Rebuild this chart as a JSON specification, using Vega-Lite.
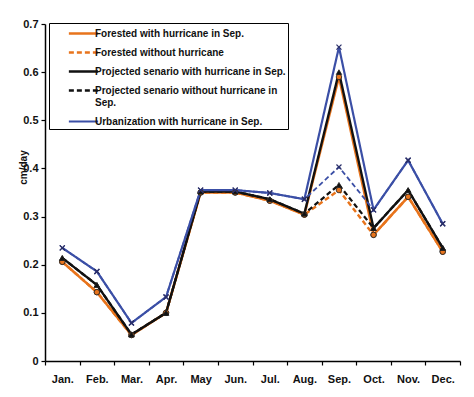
{
  "$schema": "https://vega.github.io/schema/vega-lite/v6.json",
  "width": 415,
  "height": 337,
  "autosize": "none",
  "padding": {"left": 45, "top": 24, "right": 14, "bottom": 36},
  "background": "white",
  "config": {
    "view": {"stroke": null},
    "font": "Liberation Sans",
    "axis": {"grid": false, "domainColor": "black", "tickColor": "black", "labelColor": "#111", "labelFont": "Liberation Sans", "labelFontWeight": "bold", "domainWidth": 1.5, "tickWidth": 1.2}
  },
  "datasets": {
    "d": [
      {"m": "Jan.", "s": "Forested with hurricane in Sep.", "v": 0.206},
      {"m": "Feb.", "s": "Forested with hurricane in Sep.", "v": 0.143},
      {"m": "Mar.", "s": "Forested with hurricane in Sep.", "v": 0.054},
      {"m": "Apr.", "s": "Forested with hurricane in Sep.", "v": 0.1},
      {"m": "May", "s": "Forested with hurricane in Sep.", "v": 0.35},
      {"m": "Jun.", "s": "Forested with hurricane in Sep.", "v": 0.35},
      {"m": "Jul.", "s": "Forested with hurricane in Sep.", "v": 0.333},
      {"m": "Aug.", "s": "Forested with hurricane in Sep.", "v": 0.304},
      {"m": "Sep.", "s": "Forested with hurricane in Sep.", "v": 0.59},
      {"m": "Oct.", "s": "Forested with hurricane in Sep.", "v": 0.262},
      {"m": "Nov.", "s": "Forested with hurricane in Sep.", "v": 0.341},
      {"m": "Dec.", "s": "Forested with hurricane in Sep.", "v": 0.227},
      {"m": "Jan.", "s": "Forested without hurricane", "v": 0.206},
      {"m": "Feb.", "s": "Forested without hurricane", "v": 0.143},
      {"m": "Mar.", "s": "Forested without hurricane", "v": 0.054},
      {"m": "Apr.", "s": "Forested without hurricane", "v": 0.1},
      {"m": "May", "s": "Forested without hurricane", "v": 0.35},
      {"m": "Jun.", "s": "Forested without hurricane", "v": 0.35},
      {"m": "Jul.", "s": "Forested without hurricane", "v": 0.333},
      {"m": "Aug.", "s": "Forested without hurricane", "v": 0.304},
      {"m": "Sep.", "s": "Forested without hurricane", "v": 0.355},
      {"m": "Oct.", "s": "Forested without hurricane", "v": 0.262},
      {"m": "Nov.", "s": "Forested without hurricane", "v": 0.341},
      {"m": "Dec.", "s": "Forested without hurricane", "v": 0.227},
      {"m": "Jan.", "s": "Projected senario with hurricane in Sep.", "v": 0.214},
      {"m": "Feb.", "s": "Projected senario with hurricane in Sep.", "v": 0.158},
      {"m": "Mar.", "s": "Projected senario with hurricane in Sep.", "v": 0.055},
      {"m": "Apr.", "s": "Projected senario with hurricane in Sep.", "v": 0.1},
      {"m": "May", "s": "Projected senario with hurricane in Sep.", "v": 0.352},
      {"m": "Jun.", "s": "Projected senario with hurricane in Sep.", "v": 0.352},
      {"m": "Jul.", "s": "Projected senario with hurricane in Sep.", "v": 0.336},
      {"m": "Aug.", "s": "Projected senario with hurricane in Sep.", "v": 0.306},
      {"m": "Sep.", "s": "Projected senario with hurricane in Sep.", "v": 0.6},
      {"m": "Oct.", "s": "Projected senario with hurricane in Sep.", "v": 0.276},
      {"m": "Nov.", "s": "Projected senario with hurricane in Sep.", "v": 0.355},
      {"m": "Dec.", "s": "Projected senario with hurricane in Sep.", "v": 0.235},
      {"m": "Jan.", "s": "Projected senario without hurricane in Sep.", "v": 0.214},
      {"m": "Feb.", "s": "Projected senario without hurricane in Sep.", "v": 0.158},
      {"m": "Mar.", "s": "Projected senario without hurricane in Sep.", "v": 0.055},
      {"m": "Apr.", "s": "Projected senario without hurricane in Sep.", "v": 0.1},
      {"m": "May", "s": "Projected senario without hurricane in Sep.", "v": 0.352},
      {"m": "Jun.", "s": "Projected senario without hurricane in Sep.", "v": 0.352},
      {"m": "Jul.", "s": "Projected senario without hurricane in Sep.", "v": 0.336},
      {"m": "Aug.", "s": "Projected senario without hurricane in Sep.", "v": 0.306},
      {"m": "Sep.", "s": "Projected senario without hurricane in Sep.", "v": 0.366},
      {"m": "Oct.", "s": "Projected senario without hurricane in Sep.", "v": 0.276},
      {"m": "Nov.", "s": "Projected senario without hurricane in Sep.", "v": 0.355},
      {"m": "Dec.", "s": "Projected senario without hurricane in Sep.", "v": 0.235},
      {"m": "Jan.", "s": "Urbanization with hurricane in Sep.", "v": 0.235},
      {"m": "Feb.", "s": "Urbanization with hurricane in Sep.", "v": 0.186},
      {"m": "Mar.", "s": "Urbanization with hurricane in Sep.", "v": 0.079},
      {"m": "Apr.", "s": "Urbanization with hurricane in Sep.", "v": 0.133},
      {"m": "May", "s": "Urbanization with hurricane in Sep.", "v": 0.355},
      {"m": "Jun.", "s": "Urbanization with hurricane in Sep.", "v": 0.355},
      {"m": "Jul.", "s": "Urbanization with hurricane in Sep.", "v": 0.349},
      {"m": "Aug.", "s": "Urbanization with hurricane in Sep.", "v": 0.336},
      {"m": "Sep.", "s": "Urbanization with hurricane in Sep.", "v": 0.652},
      {"m": "Oct.", "s": "Urbanization with hurricane in Sep.", "v": 0.314},
      {"m": "Nov.", "s": "Urbanization with hurricane in Sep.", "v": 0.417},
      {"m": "Dec.", "s": "Urbanization with hurricane in Sep.", "v": 0.285},
      {"m": "Jan.", "s": "Urbanization without hurricane", "v": 0.235},
      {"m": "Feb.", "s": "Urbanization without hurricane", "v": 0.186},
      {"m": "Mar.", "s": "Urbanization without hurricane", "v": 0.079},
      {"m": "Apr.", "s": "Urbanization without hurricane", "v": 0.133},
      {"m": "May", "s": "Urbanization without hurricane", "v": 0.355},
      {"m": "Jun.", "s": "Urbanization without hurricane", "v": 0.355},
      {"m": "Jul.", "s": "Urbanization without hurricane", "v": 0.349},
      {"m": "Aug.", "s": "Urbanization without hurricane", "v": 0.336},
      {"m": "Sep.", "s": "Urbanization without hurricane", "v": 0.403},
      {"m": "Oct.", "s": "Urbanization without hurricane", "v": 0.314},
      {"m": "Nov.", "s": "Urbanization without hurricane", "v": 0.417},
      {"m": "Dec.", "s": "Urbanization without hurricane", "v": 0.285}
    ]
  },
  "data": {"name": "d"},
  "encoding": {
    "x": {
      "field": "m", "type": "ordinal", "sort": null,
      "scale": {"type": "band", "paddingInner": 0, "paddingOuter": 0, "domain": ["Jan.", "Feb.", "Mar.", "Apr.", "May", "Jun.", "Jul.", "Aug.", "Sep.", "Oct.", "Nov.", "Dec."]},
      "axis": {"title": null, "labelAngle": 0, "tickBand": "extent", "tickSize": 4, "labelPadding": 8, "labelFontSize": 11}
    },
    "y": {
      "field": "v", "type": "quantitative",
      "scale": {"domain": [0, 0.7], "nice": false},
      "axis": {"values": [0, 0.1, 0.2, 0.3, 0.4, 0.5, 0.6, 0.7], "format": "~g", "tickSize": 4, "labelPadding": 3, "labelFontSize": 11, "title": "cm/day", "titleFontSize": 10, "titleFontWeight": "bold", "titleX": -22, "titleY": 143, "titleAlign": "center", "titleBaseline": "middle", "titleColor": "#111"}
    }
  },
  "layer": [
    {
      "transform": [{"filter": "datum.s != 'Urbanization without hurricane'"}],
      "mark": {"type": "line"},
      "encoding": {
        "color": {
          "field": "s", "type": "nominal",
          "scale": {"domain": ["Forested with hurricane in Sep.", "Forested without hurricane", "Projected senario with hurricane in Sep.", "Projected senario without hurricane in Sep.", "Urbanization with hurricane in Sep."], "range": ["#e8741c", "#e8741c", "#111111", "#111111", "#3b4fa6"]},
          "legend": {
            "title": null, "orient": "none", "legendX": 4, "legendY": -1,
            "symbolType": "M-2.07,0H2.07", "symbolSize": 200, "symbolStrokeWidth": 2,
            "labelFontSize": 10, "labelFontWeight": "bold", "labelColor": "#111", "labelFont": "Liberation Sans",
            "labelLimit": 400, "labelOffset": 3, "rowPadding": 5, "padding": 2, "symbolOffset": 24,
            "labelLineHeight": 11,
            "strokeColor": "black", "fillColor": "white",
            "labelExpr": "datum.label == 'Projected senario without hurricane in Sep.' ? ['Projected senario without hurricane in', 'Sep.'] : datum.label"
          }
        },
        "strokeDash": {
          "field": "s", "type": "nominal",
          "scale": {"domain": ["Forested with hurricane in Sep.", "Forested without hurricane", "Projected senario with hurricane in Sep.", "Projected senario without hurricane in Sep.", "Urbanization with hurricane in Sep."], "range": [[1, 0], [5, 3], [1, 0], [5, 3], [1, 0]]}
        },
        "strokeWidth": {
          "field": "s", "type": "nominal", "legend": null,
          "scale": {"domain": ["Forested with hurricane in Sep.", "Forested without hurricane", "Projected senario with hurricane in Sep.", "Projected senario without hurricane in Sep.", "Urbanization with hurricane in Sep."], "range": [2.5, 2.2, 2.5, 2.2, 1.6]}
        }
      }
    },
    {
      "transform": [{"filter": "datum.s == 'Urbanization without hurricane'"}],
      "mark": {"type": "line", "color": "#3b4fa6", "strokeDash": [5, 3], "strokeWidth": 1.8},
      "encoding": {}
    },
    {
      "transform": [{"filter": "indexof(datum.s, 'Urbanization') < 0"}],
      "mark": {"type": "point", "filled": true, "stroke": "#222", "strokeWidth": 0.8, "size": 30, "opacity": 1},
      "encoding": {
        "fill": {
          "field": "s", "type": "nominal", "legend": null,
          "scale": {"domain": ["Forested with hurricane in Sep.", "Forested without hurricane", "Projected senario with hurricane in Sep.", "Projected senario without hurricane in Sep."], "range": ["#e8741c", "#e8741c", "#111111", "#111111"]}
        },
        "shape": {
          "field": "s", "type": "nominal", "legend": null,
          "scale": {"domain": ["Forested with hurricane in Sep.", "Forested without hurricane", "Projected senario with hurricane in Sep.", "Projected senario without hurricane in Sep."], "range": ["circle", "circle", "triangle-up", "triangle-up"]}
        }
      }
    },
    {
      "transform": [{"filter": "indexof(datum.s, 'Urbanization') >= 0"}],
      "mark": {"type": "point", "shape": "M-1,-1L1,1M-1,1L1,-1", "filled": false, "stroke": "#2a2f6a", "strokeWidth": 1.2, "size": 25, "opacity": 1},
      "encoding": {}
    }
  ]
}
